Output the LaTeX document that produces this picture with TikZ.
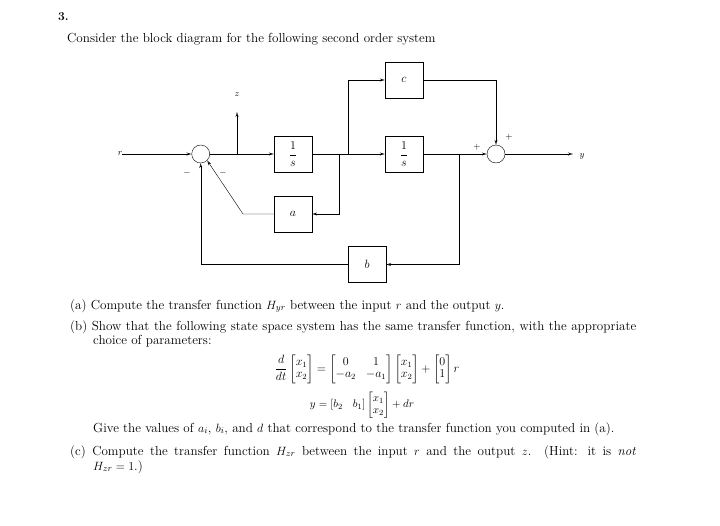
\documentclass[tikz,border=0pt]{standalone}
\usepackage{amsmath}
\usetikzlibrary{arrows.meta}
\begin{document}
\begin{tikzpicture}[x=1pt,y=-1pt,
  blk/.style={draw,minimum width=38pt,minimum height=36pt,inner sep=0pt,font=\large},
  sumc/.style={draw,circle,minimum size=18pt,inner sep=0pt},
  sig/.style={->,>={Stealth[length=5pt,width=3pt,open]}},
  txt/.style={anchor=base west,inner sep=0pt,font=\fontsize{13.1}{14}\selectfont},
  lbl/.style={font=\small,inner sep=0pt}]
\useasboundingbox (0,0) rectangle (720,525);
\node[txt,font=\bfseries\fontsize{12}{14}\selectfont] (num) at (58,20) {3.};
\node[txt] (intro) at (67,42) {Consider the block diagram for the following second order system};
% diagram
\node[sumc] (s1) at (200.7,154) {};
\node[sumc] (s2) at (496,154) {};
\node[blk] (i1) at (293,154) {$\dfrac{1}{s}$};
\node[blk] (i2) at (404,154) {$\dfrac{1}{s}$};
\node[blk] (c) at (404,80) {$c$};
\node[blk] (a) at (293,214) {$a$};
\node[blk] (b) at (367,264.5) {$b$};
\node[lbl] (r) at (120,154) {$r$};
\node[lbl] (y) at (582,156) {$y$};
\node[lbl] (z) at (237,95) {$z$};
\coordinate (zb) at (237,154);
\coordinate (za) at (237,112);
\coordinate (pa) at (339,154);
\coordinate (pc) at (348,154);
\coordinate (pb) at (459,154);
\coordinate (ya) at (573,154);
\draw[sig] (r) -- (s1);
\draw (s1) -- (zb);
\draw[sig] (zb) -- (za);
\draw[sig] (zb) -- (i1);
\draw (i1) -- (pc);
\draw[sig] (pc) -- (i2);
\draw[sig] (pc) |- (c);
\draw[sig] (c) -| (s2);
\draw[sig] (pa) |- (a);
\draw[sig] (a.west) -- (243,214) -- (s1.-45);
\draw (i2) -- (pb);
\draw[sig] (pb) -- (s2);
\draw[sig] (pb) |- (b);
\draw[sig] (b) -| (s1);
\draw[sig] (s2) -- (ya);
\node[lbl] (m1) at (187,173) {$-$};
\node[lbl] (m2) at (223,173) {$-$};
\node[lbl] (p1) at (477,147) {$+$};
\node[lbl] (p2) at (509,137) {$+$};
% text
\node[txt] (ta) at (70,309) {(a) Compute the transfer function $H_{yr}$ between the input $r$ and the output $y$.};
\node[txt] (tb) at (70,330) {\hbox to 566pt{(b) Show that the following state space system has the same transfer function, with the appropriate}};
\node[txt] (tb2) at (93,344) {choice of parameters:};
\node[inner sep=0pt,font=\fontsize{11.8}{12}\selectfont] (eq1) at (367,369)
 {$\dfrac{d}{dt}\begin{bmatrix}x_1\\x_2\end{bmatrix}=\begin{bmatrix}0&1\\-a_2&-a_1\end{bmatrix}\begin{bmatrix}x_1\\x_2\end{bmatrix}+\begin{bmatrix}0\\1\end{bmatrix}r$};
\node[inner sep=0pt,font=\fontsize{11}{12}\selectfont] (eq2) at (362,405)
 {$y=\begin{bmatrix}b_2&b_1\end{bmatrix}\begin{bmatrix}x_1\\x_2\end{bmatrix}+dr$};
\node[txt] (tg) at (93,432) {Give the values of $a_i$, $b_i$, and $d$ that correspond to the transfer function you computed in (a).};
\node[txt] (tc) at (70,455) {\hbox to 566pt{(c) Compute the transfer function $H_{zr}$ between the input $r$ and the output $z$.\ \ (Hint: it is \emph{not}}};
\node[txt] (tc2) at (93,470) {$H_{zr}=1$.)};
\end{tikzpicture}
\end{document}
